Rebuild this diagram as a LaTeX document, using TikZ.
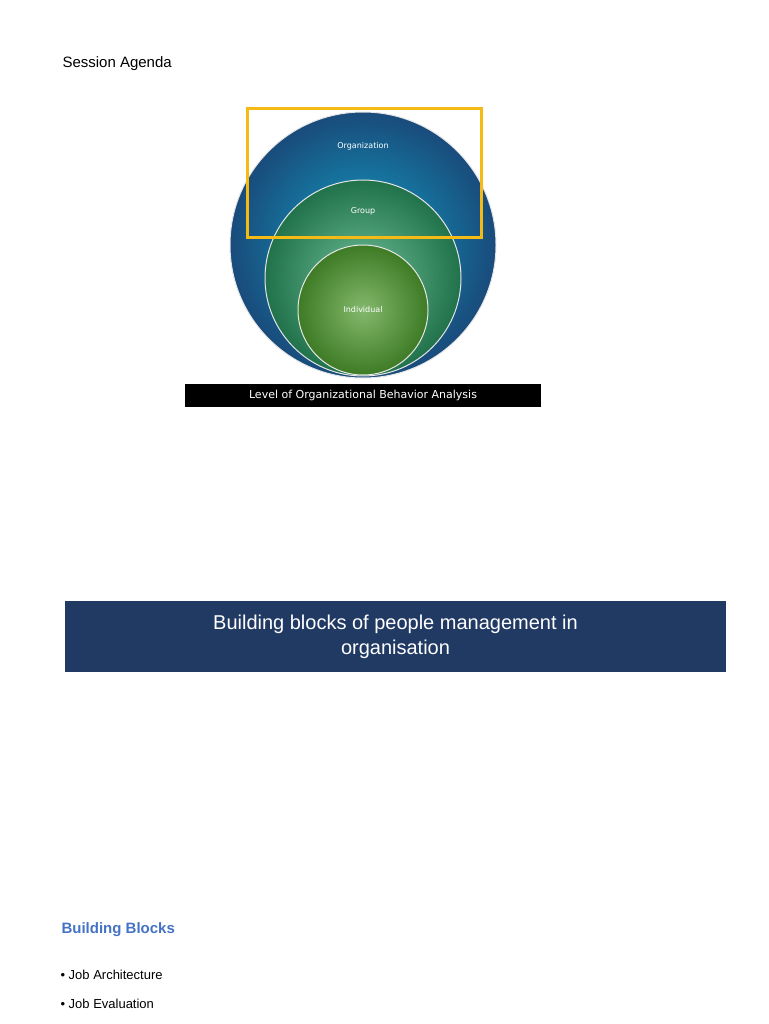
\documentclass[tikz,border=0pt]{standalone}
\usepackage{fontspec}
\setmainfont{Liberation Sans}
\newfontfamily\dv{DejaVu Sans}
\definecolor{navy}{HTML}{213A64}
\definecolor{bbblue}{HTML}{4472C4}
\definecolor{orgblue}{HTML}{1F5E9A}
\definecolor{grpgreen}{HTML}{2FA36B}
\definecolor{indgreen}{HTML}{4E9A2E}
\definecolor{gold}{HTML}{F5BA14}
\tikzset{lvl/.style={circle,draw=white!80!gray,line width=1pt},
 lbl/.style={font=\dv\fontsize{8}{10}\selectfont,text=white}}
\begin{document}
\begin{tikzpicture}[x=1pt,y=-1pt]
\useasboundingbox (0,0) rectangle (768,1024);
\node[anchor=west,font=\fontsize{15}{18}\selectfont] (title) at (59,64) {Session Agenda};
\node[lvl,minimum size=266pt,inner color=orgblue!60!cyan,outer color=orgblue!80!black] (org) at (363,245) {};
\node[lvl,minimum size=196pt,inner color=grpgreen!70!white,outer color=grpgreen!70!black] (grp) at (363,278) {};
\node[lvl,minimum size=130pt,inner color=indgreen!70!white,outer color=indgreen!80!black] (ind) at (363,310) {};
\node[lbl] (torg) at (363,146) {Organization};
\node[lbl] (tgrp) at (363,211) {Group};
\node[lbl] (tind) at (363,310) {Individual};
\node[draw=gold,line width=2.5pt,minimum width=234pt,minimum height=129pt] (box) at (364.5,173) {};
\node[fill=black,text=white,minimum width=356pt,minimum height=23pt,font=\dv\fontsize{11}{13}\selectfont] (cap) at (363,395.5) {Level of Organizational Behavior Analysis};
\node[fill=navy,text=white,minimum width=661pt,minimum height=71pt,align=center,font=\fontsize{20}{25}\selectfont] (bar) at (395.5,636.5) {Building blocks of people management in\\organisation};
\node[anchor=west,text=bbblue,font=\bfseries\fontsize{15}{18}\selectfont] (bb) at (58,930) {Building Blocks};
\node[anchor=west,font=\fontsize{13}{16}\selectfont] (b1) at (57,975) {\textbullet\ Job Architecture};
\node[anchor=west,font=\fontsize{13}{16}\selectfont] (b2) at (57,1004) {\textbullet\ Job Evaluation};
\end{tikzpicture}
\end{document}
